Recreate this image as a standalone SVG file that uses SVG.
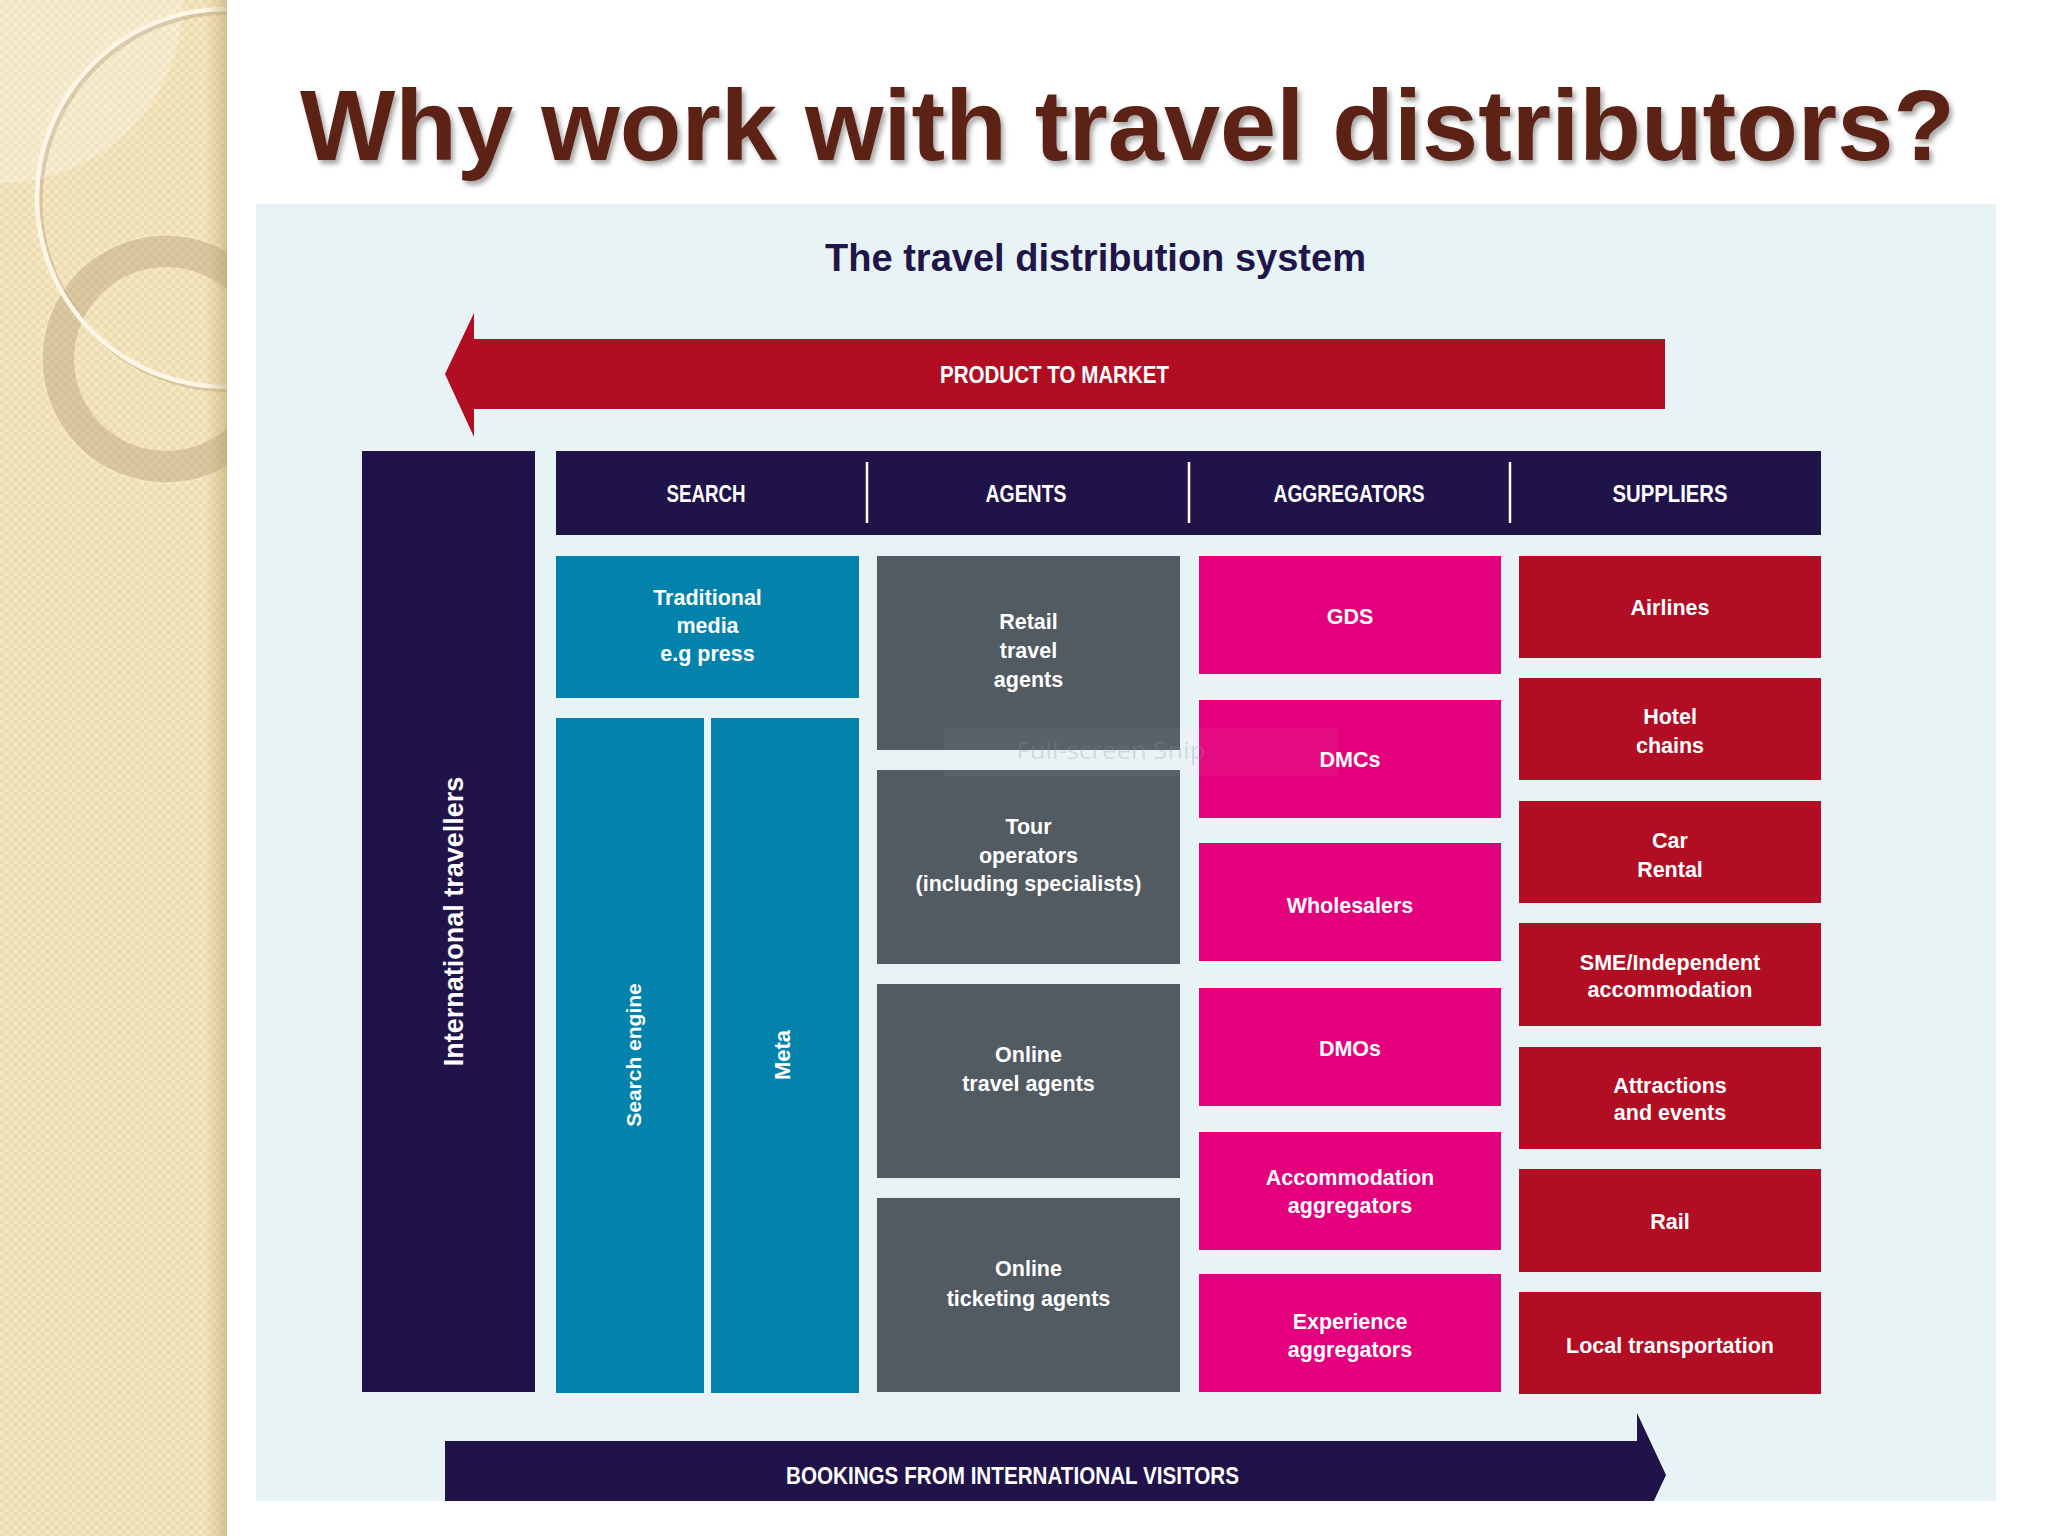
<svg xmlns="http://www.w3.org/2000/svg" width="2048" height="1536" viewBox="0 0 2048 1536">
<defs>
  <pattern id="checker" width="9" height="9" patternUnits="userSpaceOnUse">
    <rect width="9" height="9" fill="#eedcae"/>
    <rect width="4.5" height="4.5" fill="#f5e8c6"/>
    <rect x="4.5" y="4.5" width="4.5" height="4.5" fill="#f5e8c6"/>
  </pattern>
  <linearGradient id="edgeShade" x1="0" y1="0" x2="1" y2="0">
    <stop offset="0" stop-color="#c8b07a" stop-opacity="0"/>
    <stop offset="1" stop-color="#b9a06a" stop-opacity="0.55"/>
  </linearGradient>
  <clipPath id="stripClip"><rect x="0" y="0" width="227" height="1536"/></clipPath>
  <clipPath id="panelClip"><rect x="256" y="204" width="1740" height="1297"/></clipPath>
  <filter id="titleShadow" x="-5%" y="-30%" width="110%" height="160%">
    <feDropShadow dx="3" dy="4" stdDeviation="2.5" flood-color="#000" flood-opacity="0.35"/>
  </filter>
</defs>
<style>
  text { font-family: "Liberation Sans", Arial, Helvetica, sans-serif; font-weight: bold; }
  .lbl { fill: #ffffff; text-anchor: middle; font-size: 21.5px; }
  .hdr { fill: #ffffff; text-anchor: middle; font-size: 23px; }
  .navy { fill: #20134a; }
  .teal { fill: #0383ab; }
  .gray { fill: #525a62; }
  .mag { fill: #e4007c; }
  .red { fill: #b10e24; }
  .div { stroke: #ffffff; stroke-width: 2.5; }
</style>

<!-- slide background -->
<rect x="0" y="0" width="2048" height="1536" fill="#ffffff"/>

<!-- decorative left strip -->
<g id="left-strip">
  <rect x="0" y="0" width="227" height="1536" fill="url(#checker)"/>
  <g clip-path="url(#stripClip)">
    <path d="M0,0 L183,0 A183,183 0 0 1 0,183 Z" fill="#ffffff" fill-opacity="0.25"/>
    <circle cx="166" cy="359" r="108" fill="none" stroke="#a58f66" stroke-opacity="0.35" stroke-width="32"/>
    <circle cx="166" cy="359" r="124" fill="none" stroke="#fff6e0" stroke-opacity="0.5" stroke-width="1.5"/>
    <circle cx="229" cy="201" r="189" fill="none" stroke="#a8926a" stroke-opacity="0.35" stroke-width="5"/>
    <circle cx="226" cy="198" r="189" fill="none" stroke="#fdf7e8" stroke-width="4.5"/>
    <rect x="205" y="0" width="22" height="1536" fill="url(#edgeShade)"/>
  </g>
</g>

<!-- title -->
<text id="title" x="1127.5" y="160" font-size="100" text-anchor="middle" textLength="1655" lengthAdjust="spacingAndGlyphs" fill="#5b2216" filter="url(#titleShadow)">Why work with travel distributors?</text>

<!-- diagram panel -->
<rect id="panel" x="256" y="204" width="1740" height="1297" fill="#e8f3f6"/>
<text id="subtitle" x="1095.5" y="271" font-size="38" text-anchor="middle" textLength="541" lengthAdjust="spacingAndGlyphs" fill="#1f1548">The travel distribution system</text>

<!-- connectors (flow arrows) -->
<g id="connectors">
  <g id="arrow-product-to-market">
    <polygon class="red" points="445,374 474,313 474,339 1665,339 1665,409 474,409 474,437"/>
    <text class="hdr" x="1054.5" y="383" textLength="229" lengthAdjust="spacingAndGlyphs">PRODUCT TO MARKET</text>
  </g>
  <g id="arrow-bookings" clip-path="url(#panelClip)">
    <polygon class="navy" points="445,1441 1637,1441 1637,1413 1666,1475 1637,1537 1637,1509 445,1509"/>
    <text class="hdr" x="1012.5" y="1484" textLength="453" lengthAdjust="spacingAndGlyphs">BOOKINGS FROM INTERNATIONAL VISITORS</text>
  </g>
</g>

<!-- left column -->
<g id="node-international-travellers">
  <rect class="navy" x="362" y="451" width="173" height="941"/>
  <text class="lbl" style="font-size:27px" transform="translate(463,921.5) rotate(-90)">International travellers</text>
</g>

<!-- header bar -->
<g id="node-header">
  <rect class="navy" x="556" y="451" width="1265" height="84"/>
  <line class="div" x1="867" y1="462" x2="867" y2="523"/>
  <line class="div" x1="1189" y1="462" x2="1189" y2="523"/>
  <line class="div" x1="1510" y1="462" x2="1510" y2="523"/>
  <text class="hdr" x="706" y="502" textLength="79" lengthAdjust="spacingAndGlyphs">SEARCH</text>
  <text class="hdr" x="1026" y="502" textLength="81" lengthAdjust="spacingAndGlyphs">AGENTS</text>
  <text class="hdr" x="1349" y="502" textLength="151" lengthAdjust="spacingAndGlyphs">AGGREGATORS</text>
  <text class="hdr" x="1670" y="502" textLength="115" lengthAdjust="spacingAndGlyphs">SUPPLIERS</text>
</g>

<!-- SEARCH column -->
<g id="node-traditional-media">
  <rect class="teal" x="556" y="556" width="303" height="142"/>
  <text class="lbl" x="707.5" y="605">Traditional</text>
  <text class="lbl" x="707.5" y="633">media</text>
  <text class="lbl" x="707.5" y="661">e.g press</text>
</g>
<g id="node-search-engine">
  <rect class="teal" x="556" y="718" width="148" height="675"/>
  <text class="lbl" style="font-size:21px" transform="translate(641,1055) rotate(-90)">Search engine</text>
</g>
<g id="node-meta">
  <rect class="teal" x="711" y="718" width="148" height="675"/>
  <text class="lbl" style="font-size:22px" transform="translate(790,1055) rotate(-90)">Meta</text>
</g>

<!-- AGENTS column -->
<g id="node-retail-travel-agents">
  <rect class="gray" x="877" y="556" width="303" height="194"/>
  <text class="lbl" x="1028.5" y="629">Retail</text>
  <text class="lbl" x="1028.5" y="658">travel</text>
  <text class="lbl" x="1028.5" y="687">agents</text>
</g>
<g id="node-tour-operators">
  <rect class="gray" x="877" y="770" width="303" height="194"/>
  <text class="lbl" x="1028.5" y="834">Tour</text>
  <text class="lbl" x="1028.5" y="863">operators</text>
  <text class="lbl" x="1028.5" y="891">(including specialists)</text>
</g>
<g id="node-online-travel-agents">
  <rect class="gray" x="877" y="984" width="303" height="194"/>
  <text class="lbl" x="1028.5" y="1062">Online</text>
  <text class="lbl" x="1028.5" y="1091">travel agents</text>
</g>
<g id="node-online-ticketing-agents">
  <rect class="gray" x="877" y="1198" width="303" height="194"/>
  <text class="lbl" x="1028.5" y="1276">Online</text>
  <text class="lbl" x="1028.5" y="1306">ticketing agents</text>
</g>

<!-- AGGREGATORS column -->
<g id="node-gds">
  <rect class="mag" x="1199" y="556" width="302" height="118"/>
  <text class="lbl" x="1350" y="624">GDS</text>
</g>
<g id="node-dmcs">
  <rect class="mag" x="1199" y="700" width="302" height="118"/>
  <text class="lbl" x="1350" y="767">DMCs</text>
</g>
<g id="node-wholesalers">
  <rect class="mag" x="1199" y="843" width="302" height="118"/>
  <text class="lbl" x="1350" y="913">Wholesalers</text>
</g>
<g id="node-dmos">
  <rect class="mag" x="1199" y="988" width="302" height="118"/>
  <text class="lbl" x="1350" y="1056">DMOs</text>
</g>
<g id="node-accommodation-aggregators">
  <rect class="mag" x="1199" y="1132" width="302" height="118"/>
  <text class="lbl" x="1350" y="1185">Accommodation</text>
  <text class="lbl" x="1350" y="1213">aggregators</text>
</g>
<g id="node-experience-aggregators">
  <rect class="mag" x="1199" y="1274" width="302" height="118"/>
  <text class="lbl" x="1350" y="1329">Experience</text>
  <text class="lbl" x="1350" y="1357">aggregators</text>
</g>

<!-- SUPPLIERS column -->
<g id="node-airlines">
  <rect class="red" x="1519" y="556" width="302" height="102"/>
  <text class="lbl" x="1670" y="615">Airlines</text>
</g>
<g id="node-hotel-chains">
  <rect class="red" x="1519" y="678" width="302" height="102"/>
  <text class="lbl" x="1670" y="724">Hotel</text>
  <text class="lbl" x="1670" y="753">chains</text>
</g>
<g id="node-car-rental">
  <rect class="red" x="1519" y="801" width="302" height="102"/>
  <text class="lbl" x="1670" y="848">Car</text>
  <text class="lbl" x="1670" y="877">Rental</text>
</g>
<g id="node-sme-accommodation">
  <rect class="red" x="1519" y="923" width="302" height="103"/>
  <text class="lbl" x="1670" y="970">SME/Independent</text>
  <text class="lbl" x="1670" y="997">accommodation</text>
</g>
<g id="node-attractions-events">
  <rect class="red" x="1519" y="1047" width="302" height="102"/>
  <text class="lbl" x="1670" y="1093">Attractions</text>
  <text class="lbl" x="1670" y="1120">and events</text>
</g>
<g id="node-rail">
  <rect class="red" x="1519" y="1169" width="302" height="103"/>
  <text class="lbl" x="1670" y="1229">Rail</text>
</g>
<g id="node-local-transportation">
  <rect class="red" x="1519" y="1292" width="302" height="102"/>
  <text class="lbl" x="1670" y="1353">Local transportation</text>
</g>

<!-- faint screen-capture overlay -->
<g id="snip-overlay" opacity="0.6">
  <rect x="944" y="728" width="394" height="48" fill="#ffffff" fill-opacity="0.08"/>
  <text x="1111" y="759" font-size="24" text-anchor="middle" textLength="189" lengthAdjust="spacingAndGlyphs" style="font-family:'Open Sans','Liberation Sans',sans-serif;font-weight:normal" fill="#8d949b" fill-opacity="0.45">Full-screen Snip</text>
</g>
</svg>
